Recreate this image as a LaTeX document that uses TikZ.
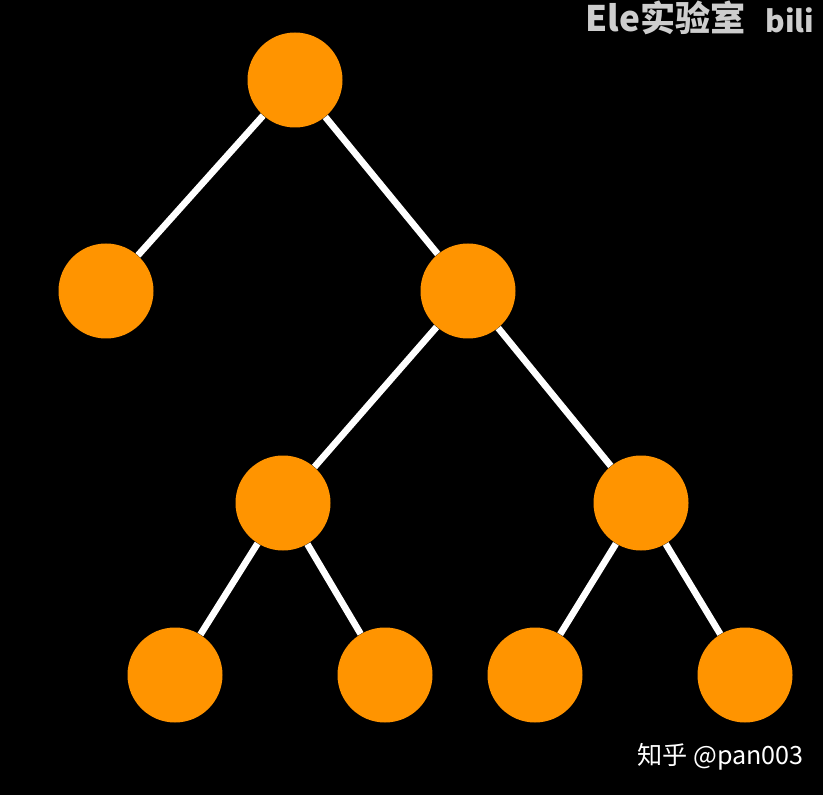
\documentclass[tikz,border=0pt]{standalone}
\usepackage{fontspec}
\setmainfont{Noto Sans CJK SC}
\definecolor{nodeorange}{RGB}{255,148,0}
\definecolor{markgray}{RGB}{205,205,205}

\begin{document}
\begin{tikzpicture}[
	treenode/.style={circle,fill=nodeorange,minimum size=1.9cm,inner sep=0pt},
	branch/.style={draw=white,line width=3.8pt}
]
	\clip (0,0) rectangle (16.46,15.9);
	\fill [black] (0,0) rectangle (16.46,15.9);
	\node [treenode] (root) at (5.9,14.3) {};
	\node [treenode] (left) at (2.12,10.08) {};
	\node [treenode] (right) at (9.36,10.08) {};
	\node [treenode] (rightL) at (5.66,5.84) {};
	\node [treenode] (rightR) at (12.82,5.84) {};
	\node [treenode] (leafA) at (3.5,2.4) {};
	\node [treenode] (leafB) at (7.7,2.4) {};
	\node [treenode] (leafC) at (10.7,2.4) {};
	\node [treenode] (leafD) at (14.9,2.4) {};
	\draw [branch] (root) -- (left);
	\draw [branch] (root) -- (right);
	\draw [branch] (right) -- (rightL);
	\draw [branch] (right) -- (rightR);
	\draw [branch] (rightL) -- (leafA);
	\draw [branch] (rightL) -- (leafB);
	\draw [branch] (rightR) -- (leafC);
	\draw [branch] (rightR) -- (leafD);
	\node [text=markgray,font=\fontsize{20}{20}\selectfont\bfseries,anchor=west,inner sep=0pt] (mark) at (11.7,15.55) {Ele实验室};
	\node [text=markgray,font=\fontsize{17}{17}\selectfont\bfseries,anchor=west,inner sep=0pt] (bili) at (15.3,15.5) {bili};
	\node [text=white,font=\fontsize{14.3}{14.3}\selectfont,anchor=west,inner sep=0pt] (credit) at (12.74,0.76) {知乎 @pan003};
\end{tikzpicture}
\end{document}
